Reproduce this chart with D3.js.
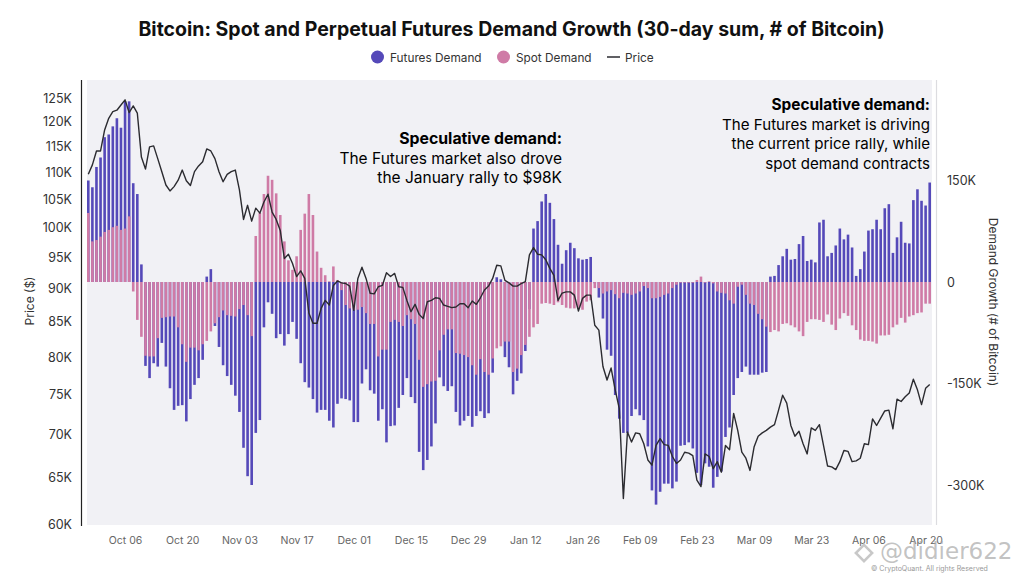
<!DOCTYPE html>
<html>
<head>
<meta charset="utf-8">
<script src="https://cdn.jsdelivr.net/npm/d3@7"></script>
<style>
body { margin: 0; background: #fff; }
text { font-family: Inter, "Liberation Sans", sans-serif; }
.domain { display: none; }
</style>
</head>
<body>
<div id="chart"></div>
<script>
// demand in thousands of BTC, price in thousands of USD, one value per day from Sep 27
var futures = [150,140,170,184,214,218,230,242,228,267,267,146,130,26,-124,-142,-120,-125,-90,-125,-157,-189,-183,-182,-206,-173,-152,-142,-115,8,19,-65,-96,-123,-139,-152,-168,-192,-245,-287,-300,
    -223,-204,-67,-30,-47,-83,-77,-94,-77,-59,-84,-120,-148,-156,-173,-193,-189,-189,-205,-215,-180,-172,-173,-175,-207,-207,-150,-129,-160,-165,-205,-188,-237,-213,-212,-186,-167,-142,-170,-179,-251,-278,
    -263,-243,-209,-141,-154,-161,-154,-192,-212,-205,-198,-214,-198,-191,-201,-194,-134,7,4,-111,-126,-166,-146,-135,-102,-40,79,90,119,130,117,93,55,27,47,58,50,35,33,34,37,
    -2,-23,-54,-100,-109,-167,-202,-223,-223,-198,-188,-197,-204,-243,-308,-329,-310,-298,-298,-305,-295,-242,-241,-237,-246,-282,-300,-268,-273,-304,-288,-280,-229,-215,-167,-142,-133,-125,-137,-137,-137,
    -134,-133,8,9,25,38,49,33,34,56,68,31,33,29,88,92,38,43,54,79,63,70,51,9,19,45,76,78,92,78,109,115,43,66,89,58,57,121,137,120,113,147];
var spot = [102,60,62,67,74,77,81,83,77,79,97,-14,-56,-81,-109,-110,-110,-83,-53,-52,-51,-51,-67,-92,-118,-97,-97,-101,-92,-87,-73,-61,-52,-42,-49,-50,-51,-40,-34,-49,-80,
    68,102,130,157,151,131,99,60,32,18,38,77,101,130,99,45,21,10,1,23,3,-12,-34,-39,-41,-41,-37,-46,-62,-62,-110,-100,-100,-59,-56,-59,-65,-49,-55,-62,-115,-155,
    -151,-147,-146,-101,-78,-70,-70,-105,-106,-108,-111,-123,-137,-114,-133,-137,-113,-98,-95,-88,-88,-133,-128,-108,-93,-81,-67,-62,-32,-31,-32,-34,-30,-34,-38,-39,-39,-39,-41,-29,-27,
    -9,-9,-17,-14,-12,-18,-24,-16,-17,-19,-17,-14,-6,-9,-24,-24,-22,-19,-17,-9,-4,-1,-1,-1,-1,3,8,-1,1,-2,-14,-16,-17,-27,-32,-7,-4,-19,-32,-34,-47,
    -55,-66,-74,-71,-73,-62,-61,-64,-67,-73,-80,-59,-55,-55,-56,-59,-48,-63,-71,-54,-46,-50,-64,-71,-85,-87,-87,-88,-91,-79,-79,-78,-67,-63,-53,-60,-51,-49,-46,-45,-32,-32];
var price = [109.6,111.4,114.1,114.1,118.3,120.7,122.1,122.4,123.5,124.6,121.9,123.3,121.8,112.9,110.6,114.9,115.1,112.6,110.1,107.6,106.5,107.3,108.5,110.4,108.4,107.5,110.1,111.2,112.0,114.5,114.1,112.6,110.1,108.2,109.6,110.1,110.4,106.7,101.4,103.9,101.1,
    103.4,102.5,104.5,105.9,102.7,101.4,99.5,94.8,95.5,94.0,91.9,92.8,91.6,86.3,84.8,84.8,87.0,88.2,87.5,90.5,91.2,90.9,90.8,90.4,86.7,91.6,93.4,91.6,89.3,89.2,90.3,90.5,92.5,91.9,92.4,90.3,90.2,88.2,86.5,87.6,86.1,85.5,
    88.0,88.2,88.6,88.5,87.5,87.3,87.1,87.2,87.7,87.7,87.1,88.1,87.6,88.6,89.8,90.4,91.6,93.7,93.6,91.3,90.9,90.4,90.4,90.8,91.1,95.4,96.6,95.5,95.4,94.6,93.2,92.1,88.2,89.3,89.5,89.5,89.0,86.6,88.5,89.0,89.0,
    84.5,83.8,78.7,76.9,78.5,75.6,73.2,62.7,70.3,69.1,70.2,70.1,68.9,67.0,66.4,68.7,69.5,68.8,68.7,67.4,66.6,67.0,67.9,67.8,67.5,64.7,64.0,67.7,67.4,66.0,66.8,65.6,68.7,68.2,72.6,70.5,67.9,67.2,65.8,68.5,69.8,
    70.2,70.5,70.9,71.2,73.0,74.9,73.9,71.1,69.8,70.4,68.9,67.7,70.8,70.5,71.2,68.7,66.3,66.2,65.9,66.8,68.1,68.0,66.8,66.9,67.2,68.9,68.8,71.9,71.1,72.0,72.9,73.0,70.7,74.4,74.1,74.7,75.2,77.0,75.6,73.7,75.8,76.3];

var priceTicks = [60,65,70,75,80,85,90,95,100,105,110,115,120,125];
var demandTicks = [150,0,-150,-300];
var dateTicks = ["Oct 06","Oct 20","Nov 03","Nov 17","Dec 01","Dec 15","Dec 29","Jan 12","Jan 26","Feb 09","Feb 23","Mar 09","Mar 23","Apr 06","Apr 20"];

function init() {
    var w = 1024;
    var h = 576;
    var left = 87, right = 932, top = 80, bottom = 525;

    var svg = d3.select("#chart")
                .append("svg")
                .attr("width", w)
                .attr("height", h)
                .style("display", "block");

    var parse = d3.utcParse("%Y %b %d");
    var start = Date.UTC(2025, 8, 27);
    var dayMs = 86400000;

    // index of a tick label = number of days after the first bar
    function dayIndex(label) {
        var year = label.slice(0, 3) == "Oct" || label.slice(0, 3) == "Nov" || label.slice(0, 3) == "Dec" ? 2025 : 2026;
        return Math.round((parse(year + " " + label) - start) / dayMs);
    }

    var x = d3.scaleLinear().domain([0, futures.length - 1]).range([88.3, 929.7]);
    var yDemand = d3.scaleLinear().domain([-150, 150]).range([383.5, 180.5]);
    var yPrice = d3.scaleLog().domain([60, 125]).range([524, 98]);

    svg.append("rect")
        .attr("x", left).attr("y", top)
        .attr("width", right - left).attr("height", bottom - top)
        .attr("fill", "#f1f1f5");

    svg.append("line").attr("x1", 81.5).attr("x2", 81.5).attr("y1", top).attr("y2", bottom + 1)
        .attr("stroke", "#222").attr("stroke-width", 1.2);
    svg.append("line").attr("x1", 936.5).attr("x2", 936.5).attr("y1", top).attr("y2", bottom)
        .attr("stroke", "#dcdce0").attr("stroke-width", 1.2);

    var barW = 2.6;

    svg.selectAll("rect.futures")
        .data(futures)
        .enter()
        .append("rect")
        .attr("class", "futures")
        .attr("x", function(d, i) { return x(i) - barW / 2; })
        .attr("y", function(d) { return Math.min(yDemand(d), yDemand(0)); })
        .attr("width", barW)
        .attr("height", function(d) { return Math.abs(yDemand(d) - yDemand(0)); })
        .attr("fill", "#5549b9");

    svg.selectAll("rect.spot")
        .data(spot)
        .enter()
        .append("rect")
        .attr("class", "spot")
        .attr("x", function(d, i) { return x(i) - barW / 2; })
        .attr("y", function(d) { return Math.min(yDemand(d), yDemand(0)); })
        .attr("width", barW)
        .attr("height", function(d) { return Math.abs(yDemand(d) - yDemand(0)); })
        .attr("fill", "#cf7ba6");

    var line = d3.line()
        .x(function(d, i) { return x(i); })
        .y(function(d) { return yPrice(d); });

    svg.append("path")
        .datum(price)
        .attr("d", line)
        .attr("fill", "none")
        .attr("stroke", "#2b2b30")
        .attr("stroke-width", 1.4)
        .attr("stroke-linejoin", "round");

    // axes
    var leftAxis = d3.axisLeft(yPrice)
        .tickValues(priceTicks)
        .tickFormat(function(d) { return d + "K"; })
        .tickSize(0)
        .tickPadding(9);
    var gl = svg.append("g").attr("transform", "translate(81,0)").call(leftAxis);
    gl.selectAll("text").attr("font-size", 12.5).attr("fill", "#333").style("font-family", "Inter");

    var rightAxis = d3.axisRight(yDemand)
        .tickValues(demandTicks)
        .tickFormat(function(d) { return d == 0 ? "0" : d + "K"; })
        .tickSize(0)
        .tickPadding(10);
    var gr = svg.append("g").attr("transform", "translate(937,0)").call(rightAxis);
    gr.selectAll("text").attr("font-size", 12.5).attr("fill", "#333").style("font-family", "Inter");

    var tickIndex = dateTicks.map(dayIndex);
    var bottomAxis = d3.axisBottom(x)
        .tickValues(tickIndex)
        .tickFormat(function(d, i) { return dateTicks[i]; })
        .tickSize(0)
        .tickPadding(10);
    var gb = svg.append("g").attr("transform", "translate(0," + (bottom + 2) + ")").call(bottomAxis);
    gb.selectAll("text").attr("font-size", 10.5).attr("fill", "#666").style("font-family", "Inter");

    // titles
    svg.append("text")
        .attr("x", 511.5).attr("y", 36)
        .attr("text-anchor", "middle")
        .attr("font-size", 19.5)
        .attr("font-weight", 700)
        .attr("fill", "#111")
        .text("Bitcoin: Spot and Perpetual Futures Demand Growth (30-day sum, # of Bitcoin)");

    svg.append("text")
        .attr("transform", "translate(34,301) rotate(-90)")
        .attr("text-anchor", "middle")
        .attr("font-size", 12)
        .attr("fill", "#333")
        .text("Price ($)");

    svg.append("text")
        .attr("transform", "translate(989,302) rotate(90)")
        .attr("text-anchor", "middle")
        .attr("font-size", 12)
        .attr("fill", "#333")
        .text("Demand Growth (# of Bitcoin)");

    // legend
    svg.append("circle").attr("cx", 377.5).attr("cy", 57).attr("r", 6.5).attr("fill", "#5549b9");
    svg.append("text").attr("x", 390).attr("y", 62).attr("font-size", 11.8).attr("fill", "#333").text("Futures Demand");
    svg.append("circle").attr("cx", 503.5).attr("cy", 57).attr("r", 6.5).attr("fill", "#cf7ba6");
    svg.append("text").attr("x", 516).attr("y", 62).attr("font-size", 11.8).attr("fill", "#333").text("Spot Demand");
    svg.append("line").attr("x1", 607).attr("x2", 620).attr("y1", 57).attr("y2", 57)
        .attr("stroke", "#2b2b30").attr("stroke-width", 1.5);
    svg.append("text").attr("x", 625).attr("y", 62).attr("font-size", 11.8).attr("fill", "#333").text("Price");

    // annotations
    function note(xr, y0, size, lines) {
        lines.forEach(function(t, i) {
            svg.append("text")
                .attr("x", xr).attr("y", y0 + i * 19.5)
                .attr("text-anchor", "end")
                .attr("font-size", i == 0 ? size + 0.3 : size)
                .attr("font-weight", i == 0 ? 700 : 400)
                .attr("fill", "#000")
                .text(t);
        });
    }
    note(562, 144, 15.5, ["Speculative demand:", "The Futures market also drove", "the January rally to $98K"]);
    note(930, 110, 15.1, ["Speculative demand:", "The Futures market is driving", "the current price rally, while", "spot demand contracts"]);

    // watermarks
    svg.append("path")
        .attr("d", d3.symbol().type(d3.symbolDiamond2).size(170))
        .attr("transform", "translate(864,553)")
        .attr("fill", "none")
        .attr("stroke", "#c8c8c8")
        .attr("stroke-width", 2.5);
    svg.append("text")
        .attr("x", 880).attr("y", 559)
        .attr("font-size", 23)
        .attr("fill", "#a8a8a8")
        .attr("fill-opacity", 0.7)
        .style("font-family", "'DejaVu Sans'")
        .text("@didier622");
    svg.append("text")
        .attr("x", 871).attr("y", 571)
        .attr("font-size", 7)
        .attr("fill", "#999")
        .text("© CryptoQuant. All rights Reserved");
}

window.onload = init;
</script>
</body>
</html>
